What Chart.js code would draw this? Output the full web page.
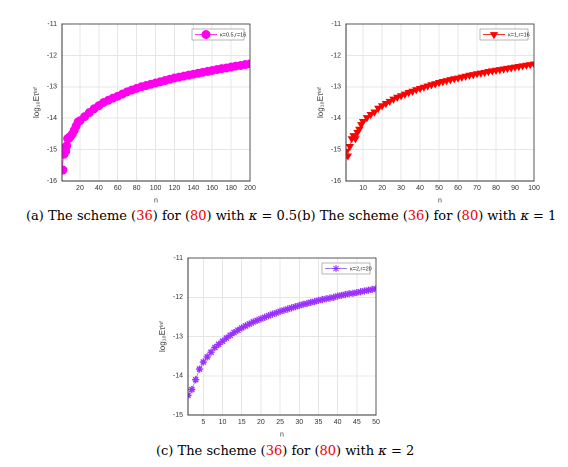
<!DOCTYPE html>
<html><head><meta charset="utf-8">
<script src="https://cdn.jsdelivr.net/npm/chart.js@4"></script>
<style>
body{margin:0;background:#fff;width:568px;height:467px;position:relative;overflow:hidden}
canvas{position:absolute}
.cap{position:absolute;font-family:"DejaVu Serif","Liberation Serif",serif;font-size:13px;white-space:nowrap}
.r{color:#e00}
</style></head><body>
<canvas id="ca" style="left:0;top:0;width:284px;height:205px"></canvas>
<canvas id="cb" style="left:284px;top:0;width:284px;height:205px"></canvas>
<canvas id="cc" style="left:126px;top:234px;width:284px;height:205px"></canvas>
<div class="cap" style="left:26px;top:208px">(a) The scheme (<span class="r">36</span>) for (<span class="r">80</span>) with <i>κ</i> = 0.5(b) The scheme (<span class="r">36</span>) for (<span class="r">80</span>) with <i>κ</i> = 1</div>
<div class="cap" style="left:156px;top:443px">(c) The scheme (<span class="r">36</span>) for (<span class="r">80</span>) with <i>κ</i> = 2</div>
<script>
const nA = [1,2,3,4,5,6,7,8,9,10,12,14,16,18,20,25,30,35,40,45,50,55,60,65,70,75,80,85,90,95,100,105,110,115,120,125,130,135,140,145,150,155,160,165,170,175,180,185,190,195,200];
const errA = [-15.65,-15.65,-15.15,-15.05,-15.05,-14.88,-14.65,-14.65,-14.6,-14.58,-14.5,-14.38,-14.25,-14.12,-14.08,-13.95,-13.82,-13.7,-13.6,-13.5,-13.43,-13.36,-13.3,-13.23,-13.16,-13.1,-13.05,-13.0,-12.96,-12.92,-12.88,-12.84,-12.8,-12.76,-12.72,-12.69,-12.66,-12.63,-12.6,-12.57,-12.54,-12.51,-12.48,-12.45,-12.42,-12.4,-12.37,-12.34,-12.32,-12.29,-12.27];
const nB = [1,2,3,4,5,6,7,8,9,10,12,14,16,18,20,22,24,26,28,30,32,34,36,38,40,42,44,46,48,50,52,54,56,58,60,62,64,66,68,70,72,74,76,78,80,82,84,86,88,90,92,94,96,98,100];
const errB = [-15.05,-15.2,-14.9,-14.65,-14.55,-14.65,-14.45,-14.35,-14.2,-14.1,-13.98,-13.88,-13.8,-13.68,-13.6,-13.53,-13.46,-13.39,-13.33,-13.28,-13.23,-13.18,-13.14,-13.09,-13.05,-13.01,-12.97,-12.93,-12.9,-12.86,-12.83,-12.8,-12.77,-12.74,-12.72,-12.69,-12.66,-12.63,-12.61,-12.58,-12.56,-12.54,-12.51,-12.49,-12.47,-12.45,-12.43,-12.41,-12.39,-12.37,-12.35,-12.33,-12.31,-12.29,-12.27];
const nC = [1,2,3,4,5,6,7,8,9,10,11,12,13,14,15,16,17,18,19,20,21,22,23,24,25,26,27,28,29,30,31,32,33,34,35,36,37,38,39,40,41,42,43,44,45,46,47,48,49,50];
const errC = [-14.5,-14.35,-14.1,-13.83,-13.65,-13.52,-13.4,-13.28,-13.2,-13.12,-13.04,-12.97,-12.9,-12.84,-12.78,-12.73,-12.68,-12.63,-12.59,-12.55,-12.51,-12.47,-12.43,-12.4,-12.36,-12.33,-12.3,-12.27,-12.24,-12.21,-12.18,-12.16,-12.13,-12.11,-12.08,-12.06,-12.04,-12.02,-12.0,-11.97,-11.95,-11.93,-11.91,-11.9,-11.88,-11.86,-11.84,-11.82,-11.8,-11.78];
const ticksA = [20,40,60,80,100,120,140,160,180,200];
const ticksB = [10,20,30,40,50,60,70,80,90,100];
const ticksC = [5,10,15,20,25,30,35,40,45,50];

const tickFont = {family: "Liberation Sans, Arial", size: 7};

const boxLegend = {
  id: "boxLegend",
  afterDraw(chart, args, o) {
    const ctx = chart.ctx, a = chart.chartArea, ds = chart.data.datasets[0];
    const w = o.w, h = 11, x = a.right - w - 6, y = a.top + 5;
    ctx.save();
    ctx.fillStyle = "#fff"; ctx.strokeStyle = "#888"; ctx.lineWidth = 0.6;
    ctx.fillRect(x, y, w, h); ctx.strokeRect(x, y, w, h);
    ctx.strokeStyle = ds.borderColor; ctx.lineWidth = 1;
    ctx.beginPath(); ctx.moveTo(x + 3, y + h / 2); ctx.lineTo(x + 25, y + h / 2); ctx.stroke();
    ctx.fillStyle = ds.pointBackgroundColor; ctx.strokeStyle = ds.pointBorderColor;
    Chart.helpers.drawPoint(ctx, {pointStyle: ds.pointStyle, radius: ds.pointRadius, rotation: ds.pointRotation || 0, borderWidth: ds.pointBorderWidth || 1}, x + 14, y + h / 2);
    ctx.fillStyle = "#222"; ctx.font = "5.5px Liberation Sans"; ctx.textBaseline = "middle";
    ctx.fillText(o.text, x + 28, y + h / 2 + 0.5);
    ctx.restore();
  }
};

function make(id, n, err, xt, xmax, ymin, style, color, lineColor, label, rot, lw, r) {
  const ctx = document.getElementById(id);
  const yt = [];
  for (let v = ymin; v <= -11; v++) yt.push(v);
  new Chart(ctx, {
    type: "line",
    data: {datasets: [{
      data: n.map((v, i) => ({x: v, y: err[i]})),
      borderColor: lineColor, borderWidth: 0.8, backgroundColor: color,
      pointStyle: style, pointRadius: r, pointRotation: rot,
      pointBorderColor: color, pointBackgroundColor: color, pointBorderWidth: style === "star" ? 1.4 : 1,
      tension: 0
    }]},
    options: {
      responsive: false, animation: false, devicePixelRatio: 2,
      layout: {padding: {left: 32, right: 34, top: 24, bottom: 0}},
      plugins: {legend: {display: false}, tooltip: {enabled: false}, boxLegend: {text: label, w: lw}},
      scales: {
        x: {type: "linear", min: 1, max: xmax,
          afterBuildTicks: s => { s.ticks = xt.map(v => ({value: v})); },
          afterFit: s => { s.height = 24; },
          grid: {color: "#e6e6e6", drawTicks: false}, border: {color: "#333"},
          ticks: {font: tickFont, color: "#333", padding: 3, maxRotation: 0},
          title: {display: true, text: "n", font: tickFont, color: "#333", padding: 0}},
        y: {min: ymin, max: -11,
          afterBuildTicks: s => { s.ticks = yt.map(v => ({value: v})); },
          afterFit: s => { s.width = 30; },
          grid: {color: "#e6e6e6", drawTicks: false}, border: {color: "#333"},
          ticks: {font: tickFont, color: "#333", padding: 5},
          title: {display: true, text: "log\u2081\u2080E\u03c4\u2071\u207f\u1da0", font: {family: "Liberation Sans", size: 8}, color: "#333", padding: {top: 0, bottom: 2}}}
      }
    },
    plugins: [boxLegend, {
      id: "frame",
      afterDraw(c) { const a = c.chartArea, g = c.ctx; g.save(); g.strokeStyle = "#333"; g.lineWidth = 0.8; g.strokeRect(a.left, a.top, a.right - a.left, a.bottom - a.top); g.restore(); }
    }]
  });
}
["ca","cb","cc"].forEach(id => { const c = document.getElementById(id); c.width = 284; c.height = 205; });
make("ca", nA, errA, ticksA, 200, -16, "circle", "#ff00ee", "#ff40f0", "\u03ba=0.5,r=16", 0, 52, 4);
make("cb", nB, errB, ticksB, 100, -16, "triangle", "#ff0000", "#ff3030", "\u03ba=1,r=16", 180, 48, 3.8);
make("cc", nC, errC, ticksC, 50, -15, "star", "#9b30ff", "#9a80ee", "\u03ba=2,r=20", 0, 48, 3.6);
</script>
</body></html>
